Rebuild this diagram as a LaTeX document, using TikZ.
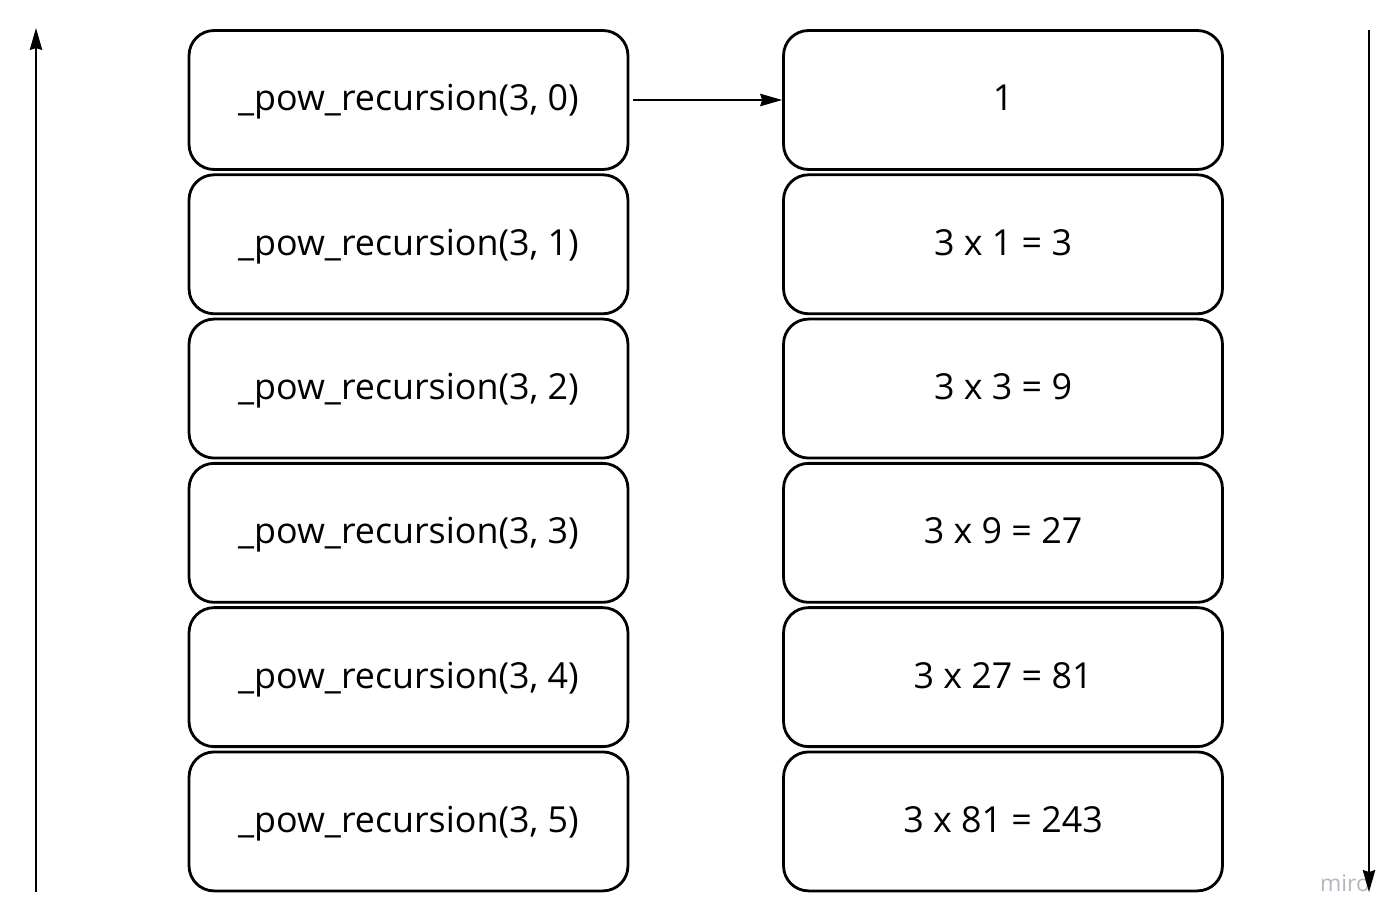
\documentclass[tikz,border=0pt]{standalone}
\usepackage{fontspec}
\setmainfont{Open Sans}
\usetikzlibrary{positioning,arrows.meta}
\tikzset{%
  frame/.style  = { draw = black, line width = 1.6pt, rounded corners = 0.5cm, align = center,
    minimum width = 8.78cm, minimum height = 2.78cm, inner sep = 0pt, text height = 0.52cm, text depth = 0.08cm,
    font = \fontsize{20.4}{24}\selectfont },
  arrow/.style  = { -{Stealth[length=0.44cm, width=0.25cm, inset=0.04cm]}, line width = 0.8pt },
}
\definecolor{mirogray}{HTML}{B4B6BE}

\begin{document}
\begin{tikzpicture}[x=0.02cm, y=-0.02cm]
    \useasboundingbox (0,0) rectangle (1400,922);
    % nodes ----------------------------------------------------------------------------------------
    % call frames
    \node(call0) [frame] at (408.5,100) {\_pow\_recursion(3, 0)};
    \node(call1) [frame, below = 0.05cm of call0] {\_pow\_recursion(3, 1)};
    \node(call2) [frame, below = 0.05cm of call1] {\_pow\_recursion(3, 2)};
    \node(call3) [frame, below = 0.05cm of call2] {\_pow\_recursion(3, 3)};
    \node(call4) [frame, below = 0.05cm of call3] {\_pow\_recursion(3, 4)};
    \node(call5) [frame, below = 0.05cm of call4] {\_pow\_recursion(3, 5)};
    % returned values
    \node(ret0) [frame] at (1003,100) {1};
    \node(ret1) [frame, below = 0.05cm of ret0] {3 x 1 = 3};
    \node(ret2) [frame, below = 0.05cm of ret1] {3 x 3 = 9};
    \node(ret3) [frame, below = 0.05cm of ret2] {3 x 9 = 27};
    \node(ret4) [frame, below = 0.05cm of ret3] {3 x 27 = 81};
    \node(ret5) [frame, below = 0.05cm of ret4] {3 x 81 = 243};
    % ends of the side arrows
    \coordinate(up0)   at (36,892);
    \coordinate(up1)   at (36,28);
    \coordinate(down0) at (1369,30);
    \coordinate(down1) at (1369,892);
    % watermark
    \node(miro) [text = mirogray, font = \fontsize{13}{15}\selectfont, inner sep = 0pt] at (1345,883) {miro};
    % arrows ---------------------------------------------------------------------------------------
    \draw[arrow] (up0) -- (up1);
    \draw[arrow] (down0) -- (down1);
    \draw[arrow] ([xshift=0.08cm]call0.east) -- (ret0.west);
\end{tikzpicture}
\end{document}
